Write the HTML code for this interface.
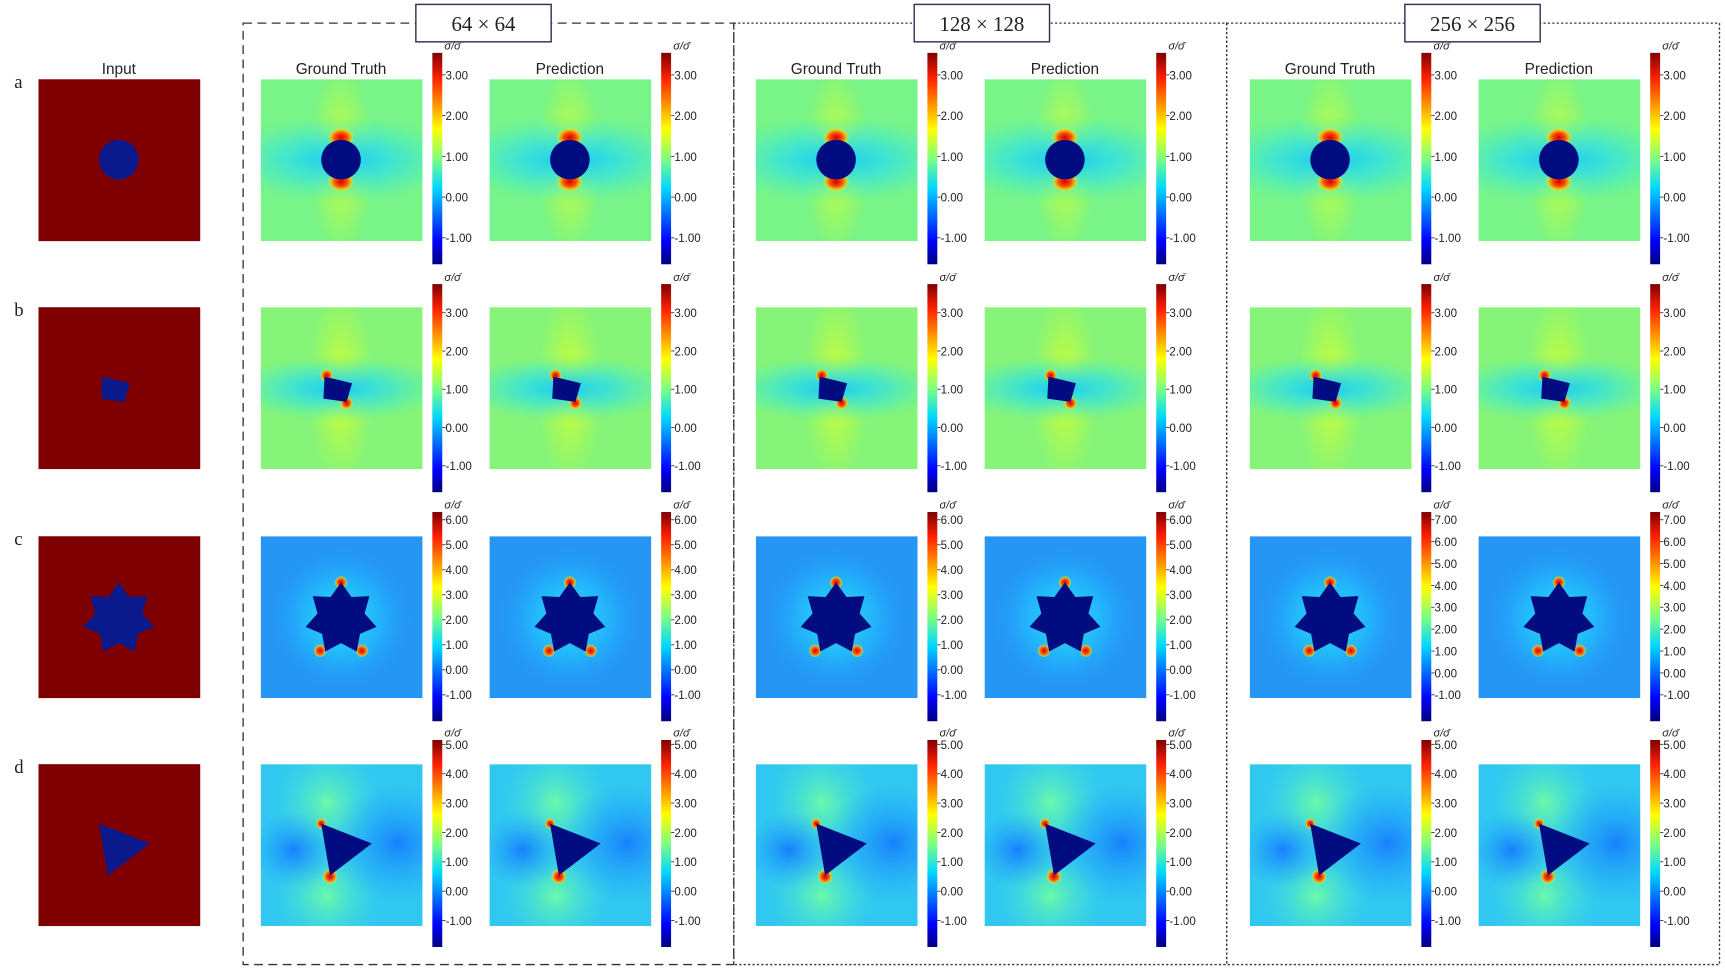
<!DOCTYPE html>
<html><head><meta charset="utf-8"><style>
html,body{margin:0;padding:0;background:#fff;}
svg{display:block;}
</style></head><body>
<svg id="fig" width="1725" height="969" viewBox="0 0 1568 880" preserveAspectRatio="none" xmlns="http://www.w3.org/2000/svg" font-family="Liberation Sans, sans-serif">
<defs>
<linearGradient id="jet" x1="0" y1="1" x2="0" y2="0">
<stop offset="0" stop-color="#00007f"/><stop offset="0.11" stop-color="#0000ff"/><stop offset="0.36" stop-color="#00d8ff"/><stop offset="0.5" stop-color="#7fff7f"/><stop offset="0.64" stop-color="#ffff00"/><stop offset="0.88" stop-color="#ff2000"/><stop offset="1" stop-color="#7f0000"/>
</linearGradient>
<radialGradient id="cyanH"><stop offset="0" stop-color="#10c8ff" stop-opacity="1"/><stop offset="0.5" stop-color="#28e0f0" stop-opacity="0.6"/><stop offset="1" stop-color="#40f0d0" stop-opacity="0"/></radialGradient>
<radialGradient id="yelV"><stop offset="0" stop-color="#e0ff20" stop-opacity="0.9"/><stop offset="1" stop-color="#c0ff40" stop-opacity="0"/></radialGradient>
<radialGradient id="hot"><stop offset="0" stop-color="#d00000"/><stop offset="0.5" stop-color="#ff5000"/><stop offset="0.8" stop-color="#ffc000" stop-opacity="0.7"/><stop offset="1" stop-color="#ffff00" stop-opacity="0"/></radialGradient>
<radialGradient id="cyanC"><stop offset="0" stop-color="#30f0e0" stop-opacity="0.9"/><stop offset="0.5" stop-color="#20c8ff" stop-opacity="0.6"/><stop offset="1" stop-color="#1e90ff" stop-opacity="0"/></radialGradient>
<radialGradient id="greenD"><stop offset="0" stop-color="#70ffa0" stop-opacity="0.9"/><stop offset="1" stop-color="#40e0e0" stop-opacity="0"/></radialGradient>
<radialGradient id="blueD"><stop offset="0" stop-color="#1070ff" stop-opacity="0.8"/><stop offset="1" stop-color="#20a0ff" stop-opacity="0"/></radialGradient>
</defs>
</svg>
<script>
const NS='http://www.w3.org/2000/svg';
const svg=document.getElementById('fig');
const rowLabels=['a','b','c','d'];
const groupTitles=['64 × 64','128 × 128','256 × 256'];
const ticksA=['3.00','2.00','1.00','0.00','-1.00'];
const ticksB=['3.00','2.00','1.00','0.00','-1.00'];
const ticksC=[['6.00','5.00','4.00','3.00','2.00','1.00','0.00','-1.00'],['6.00','5.00','4.00','3.00','2.00','1.00','0.00','-1.00'],['7.00','6.00','5.00','4.00','3.00','2.00','1.00','0.00','-1.00']];
const ticksD=['5.00','4.00','3.00','2.00','1.00','0.00','-1.00'];

function el(tag,attrs,parent){const e=document.createElementNS(NS,tag);for(const k in attrs)e.setAttribute(k,attrs[k]);(parent||svg).appendChild(e);return e;}
function txt(x,y,s,size,extra,parent){const t=el('text',Object.assign({x:x,y:y,'font-size':size,fill:'#222'},extra||{}),parent);t.textContent=s;return t;}

const rowY=[72,279,487,694];
const P=147;
function shapePts(r){
  if(r===1)return '58,63 83,69 78,86 57,83';
  if(r===3)return '55,54 101,72 63,101';
  if(r===2){let p=[];for(let i=0;i<14;i++){const a=-Math.PI/2+i*Math.PI/7;const rr=i%2?22:33;p.push((73+rr*Math.cos(a)).toFixed(1)+','+(75+rr*Math.sin(a)).toFixed(1));}return p.join(' ');}
}
function drawShape(g,r,fill){
  if(r===0)el('circle',{cx:73,cy:73,r:18,fill:fill},g);
  else el('polygon',{points:shapePts(r),fill:fill},g);
}
function drawField(x,y,r,name){
  const g=el('g',{transform:`translate(${x},${y})`});
  
  
  const clipId='c'+x+'_'+y;
  const cp=el('clipPath',{id:clipId},g);el('rect',{x:0,y:0,width:P,height:P},cp);
  const h=el('g',{'clip-path':`url(#${clipId})`},g);
  if(r===0){
    el('rect',{x:0,y:0,width:P,height:P,fill:'#78f488'},h);
    el('ellipse',{cx:73,cy:73,rx:30,ry:90,fill:'url(#yelV)'},h);
    el('ellipse',{cx:73,cy:73,rx:110,ry:40,fill:'url(#cyanH)'},h);
    el('ellipse',{cx:73,cy:53,rx:12,ry:9,fill:'url(#hot)'},h);
    el('ellipse',{cx:73,cy:93,rx:12,ry:9,fill:'url(#hot)'},h);
  }else if(r===1){
    el('rect',{x:0,y:0,width:P,height:P,fill:'#86f478'},h);
    el('ellipse',{cx:73,cy:73,rx:30,ry:90,fill:'url(#yelV)'},h);
    el('ellipse',{cx:70,cy:74,rx:100,ry:30,fill:'url(#cyanH)'},h);
    el('circle',{cx:60,cy:62,r:6,fill:'url(#hot)'},h);
    el('circle',{cx:78,cy:87,r:6,fill:'url(#hot)'},h);
  }else if(r===2){
    el('rect',{x:0,y:0,width:P,height:P,fill:'#2696f4'},h);
    el('circle',{cx:73,cy:75,r:70,fill:'url(#cyanC)'},h);
    [[73,42],[54,104],[92,104]].forEach(p=>el('circle',{cx:p[0],cy:p[1],r:6,fill:'url(#hot)'},h));
  }else{
    el('rect',{x:0,y:0,width:P,height:P,fill:'#30c8f0'},h);
    el('ellipse',{cx:60,cy:35,rx:50,ry:55,fill:'url(#greenD)'},h);
    el('ellipse',{cx:60,cy:120,rx:50,ry:50,fill:'url(#greenD)'},h);
    el('ellipse',{cx:125,cy:72,rx:60,ry:55,fill:'url(#blueD)'},h);
    el('ellipse',{cx:30,cy:78,rx:40,ry:35,fill:'url(#blueD)'},h);
    el('circle',{cx:55,cy:54,r:5,fill:'url(#hot)'},h);
    el('circle',{cx:63,cy:102,r:7,fill:'url(#hot)'},h);
  }
  drawShape(h,r,'#000c80');
}
function drawColorbar(x,top,bot,ticks,first,name){
  const g=el('g',{});
  
  
  el('rect',{x:x,y:top,width:9,height:bot-top,fill:'url(#jet)'},g);
  const t0=top+first,t1=bot-24;
  const step=(t1-t0)/(ticks.length-1);
  ticks.forEach((v,i)=>{const yy=t0+i*step;el('line',{x1:x+9,y1:yy,x2:x+12,y2:yy,stroke:'#333','stroke-width':0.8},g);txt(x+12,yy+4,v,10.5,{},g);});
  txt(x+11,top-3,'σ/σ̄',10,{'font-style':'italic'},g);
}
const gx=[221,667,1115];
gx.forEach((x,i)=>{
  const r=el('rect',{x:x,y:21,width:i===0?446:448,height:855,fill:'none',stroke:'#333','stroke-width':1.2,'stroke-dasharray':i===0?'8,5':'2,2'});
  
  
});
const titleX=[378,831,1277];
titleX.forEach((x,i)=>{
  const b=el('rect',{x:x,y:4,width:123,height:34,fill:'#fff',stroke:'#2a3550','stroke-width':1.3});
  
  
  const t=txt(x+61.5,28,groupTitles[i],19,{'text-anchor':'middle','font-family':'Liberation Serif, serif'});
  
  
});
const it=txt(108,67,'Input',14,{'text-anchor':'middle'});

const offs=[0,450,899];
offs.forEach(o=>{
  const a=txt(310+o,67,'Ground Truth',14,{'text-anchor':'middle'});
  
  const b=txt(518+o,67,'Prediction',14,{'text-anchor':'middle'});
  
});
const cbTop=[48,258,465,672],cbBot=[240,447,655,860],cbFirst=[20,26,7,4];
rowY.forEach((y,r)=>{
  const l=txt(13,y+8,rowLabels[r],17,{'font-family':'Liberation Serif, serif'});
  
  const ig=el('g',{transform:`translate(35,${y})`});
  
  
  el('rect',{x:0,y:0,width:P,height:P,fill:'#7f0000'},ig);
  drawShape(ig,r,'#0a1a8c');
  offs.forEach((o,gi)=>{
    drawField(237+o,y,r,'ground-truth-field-'+rowLabels[r]);
    drawField(445+o,y,r,'prediction-field-'+rowLabels[r]);
    const tk=r===0?ticksA:r===1?ticksB:r===2?ticksC[gi]:ticksD;
    drawColorbar(393+o,cbTop[r],cbBot[r],tk,cbFirst[r],'colorbar-gt-'+rowLabels[r]);
    drawColorbar(601+o,cbTop[r],cbBot[r],tk,cbFirst[r],'colorbar-pred-'+rowLabels[r]);
  });
});
</script>
</body></html>
